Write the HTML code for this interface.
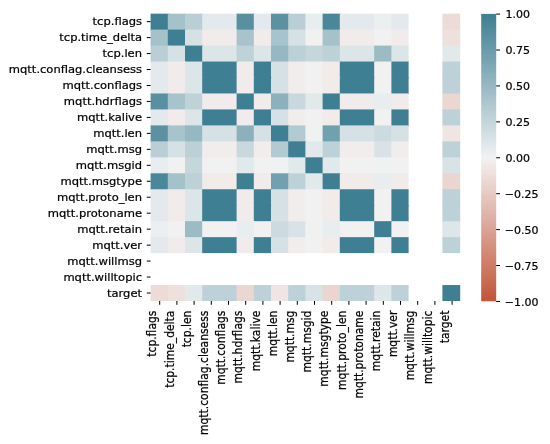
<!DOCTYPE html><html><head><meta charset="utf-8"><title>heatmap</title><style>html,body{margin:0;padding:0;background:#fff}svg{display:block}text{font-family:"DejaVu Sans","Liberation Sans",sans-serif;font-size:10.9px;fill:#000;stroke:#000;stroke-width:0.22px}.xl{font-size:10.75px}</style></head><body>
<svg width="550" height="444" viewBox="0 0 550 444">
<rect width="550" height="444" fill="#fff"/>
<g shape-rendering="auto">
<rect x="150.60" y="13.65" width="18.20" height="16.96" fill="#3f7f93"/>
<rect x="167.80" y="13.65" width="18.20" height="16.96" fill="#a5c1ca"/>
<rect x="185.00" y="13.65" width="18.20" height="16.96" fill="#b9cfd5"/>
<rect x="202.20" y="13.65" width="35.40" height="16.96" fill="#e3e9ec"/>
<rect x="236.60" y="13.65" width="18.20" height="16.96" fill="#588fa1"/>
<rect x="253.80" y="13.65" width="18.20" height="16.96" fill="#e3e9ec"/>
<rect x="271.00" y="13.65" width="18.20" height="16.96" fill="#5b91a2"/>
<rect x="288.20" y="13.65" width="18.20" height="16.96" fill="#b9cfd5"/>
<rect x="305.40" y="13.65" width="18.20" height="16.96" fill="#e8edef"/>
<rect x="322.60" y="13.65" width="18.20" height="16.96" fill="#4b879a"/>
<rect x="339.80" y="13.65" width="35.40" height="16.96" fill="#e3e9ec"/>
<rect x="374.20" y="13.65" width="18.20" height="16.96" fill="#ebeff0"/>
<rect x="391.40" y="13.65" width="17.20" height="16.96" fill="#e3e9ec"/>
<rect x="442.40" y="13.65" width="17.80" height="16.96" fill="#ecdbd7"/>
<rect x="150.60" y="29.61" width="18.20" height="16.96" fill="#a5c1ca"/>
<rect x="167.80" y="29.61" width="18.20" height="16.96" fill="#3f7f93"/>
<rect x="185.00" y="29.61" width="18.20" height="16.96" fill="#d6e1e5"/>
<rect x="202.20" y="29.61" width="35.40" height="16.96" fill="#f1eceb"/>
<rect x="236.60" y="29.61" width="18.20" height="16.96" fill="#a7c3cc"/>
<rect x="253.80" y="29.61" width="18.20" height="16.96" fill="#f1eceb"/>
<rect x="271.00" y="29.61" width="18.20" height="16.96" fill="#a7c3cc"/>
<rect x="288.20" y="29.61" width="18.20" height="16.96" fill="#d6e1e5"/>
<rect x="305.40" y="29.61" width="18.20" height="16.96" fill="#f2f1f1"/>
<rect x="322.60" y="29.61" width="18.20" height="16.96" fill="#a5c1ca"/>
<rect x="339.80" y="29.61" width="35.40" height="16.96" fill="#f1eceb"/>
<rect x="374.20" y="29.61" width="18.20" height="16.96" fill="#f2f1f1"/>
<rect x="391.40" y="29.61" width="17.20" height="16.96" fill="#f1eceb"/>
<rect x="442.40" y="29.61" width="17.80" height="16.96" fill="#ede0dd"/>
<rect x="150.60" y="45.58" width="18.20" height="16.96" fill="#b9cfd5"/>
<rect x="167.80" y="45.58" width="18.20" height="16.96" fill="#d6e1e5"/>
<rect x="185.00" y="45.58" width="18.20" height="16.96" fill="#3f7f93"/>
<rect x="202.20" y="45.58" width="35.40" height="16.96" fill="#dce5e8"/>
<rect x="236.60" y="45.58" width="18.20" height="16.96" fill="#bfd2d8"/>
<rect x="253.80" y="45.58" width="18.20" height="16.96" fill="#dce5e8"/>
<rect x="271.00" y="45.58" width="18.20" height="16.96" fill="#96b8c2"/>
<rect x="288.20" y="45.58" width="18.20" height="16.96" fill="#bcd0d7"/>
<rect x="305.40" y="45.58" width="18.20" height="16.96" fill="#c6d7dc"/>
<rect x="322.60" y="45.58" width="18.20" height="16.96" fill="#bdd1d8"/>
<rect x="339.80" y="45.58" width="35.40" height="16.96" fill="#dce5e8"/>
<rect x="374.20" y="45.58" width="18.20" height="16.96" fill="#9bbbc5"/>
<rect x="391.40" y="45.58" width="17.20" height="16.96" fill="#dce5e8"/>
<rect x="442.40" y="45.58" width="17.80" height="16.96" fill="#e1e9eb"/>
<rect x="150.60" y="61.54" width="18.20" height="16.96" fill="#e3e9ec"/>
<rect x="167.80" y="61.54" width="18.20" height="16.96" fill="#f1eceb"/>
<rect x="185.00" y="61.54" width="18.20" height="16.96" fill="#dce5e8"/>
<rect x="202.20" y="61.54" width="35.40" height="16.96" fill="#3f7f93"/>
<rect x="236.60" y="61.54" width="18.20" height="16.96" fill="#f1eceb"/>
<rect x="253.80" y="61.54" width="18.20" height="16.96" fill="#3f7f93"/>
<rect x="271.00" y="61.54" width="18.20" height="16.96" fill="#d6e1e5"/>
<rect x="288.20" y="61.54" width="18.20" height="16.96" fill="#f1edec"/>
<rect x="305.40" y="61.54" width="18.20" height="16.96" fill="#f2f1f1"/>
<rect x="322.60" y="61.54" width="18.20" height="16.96" fill="#f1ebe9"/>
<rect x="339.80" y="61.54" width="35.40" height="16.96" fill="#3f7f93"/>
<rect x="374.20" y="61.54" width="18.20" height="16.96" fill="#f2f1f1"/>
<rect x="391.40" y="61.54" width="17.20" height="16.96" fill="#3f7f93"/>
<rect x="442.40" y="61.54" width="17.80" height="16.96" fill="#bdd1d8"/>
<rect x="150.60" y="77.51" width="18.20" height="16.96" fill="#e3e9ec"/>
<rect x="167.80" y="77.51" width="18.20" height="16.96" fill="#f1eceb"/>
<rect x="185.00" y="77.51" width="18.20" height="16.96" fill="#dce5e8"/>
<rect x="202.20" y="77.51" width="35.40" height="16.96" fill="#3f7f93"/>
<rect x="236.60" y="77.51" width="18.20" height="16.96" fill="#f1eceb"/>
<rect x="253.80" y="77.51" width="18.20" height="16.96" fill="#3f7f93"/>
<rect x="271.00" y="77.51" width="18.20" height="16.96" fill="#d6e1e5"/>
<rect x="288.20" y="77.51" width="18.20" height="16.96" fill="#f1edec"/>
<rect x="305.40" y="77.51" width="18.20" height="16.96" fill="#f2f1f1"/>
<rect x="322.60" y="77.51" width="18.20" height="16.96" fill="#f1ebe9"/>
<rect x="339.80" y="77.51" width="35.40" height="16.96" fill="#3f7f93"/>
<rect x="374.20" y="77.51" width="18.20" height="16.96" fill="#f2f1f1"/>
<rect x="391.40" y="77.51" width="17.20" height="16.96" fill="#3f7f93"/>
<rect x="442.40" y="77.51" width="17.80" height="16.96" fill="#bdd1d8"/>
<rect x="150.60" y="93.47" width="18.20" height="16.96" fill="#588fa1"/>
<rect x="167.80" y="93.47" width="18.20" height="16.96" fill="#a7c3cc"/>
<rect x="185.00" y="93.47" width="18.20" height="16.96" fill="#bfd2d8"/>
<rect x="202.20" y="93.47" width="35.40" height="16.96" fill="#f1eceb"/>
<rect x="236.60" y="93.47" width="18.20" height="16.96" fill="#3f7f93"/>
<rect x="253.80" y="93.47" width="18.20" height="16.96" fill="#f1eceb"/>
<rect x="271.00" y="93.47" width="18.20" height="16.96" fill="#8bb1bc"/>
<rect x="288.20" y="93.47" width="18.20" height="16.96" fill="#c8d8de"/>
<rect x="305.40" y="93.47" width="18.20" height="16.96" fill="#e1e9eb"/>
<rect x="322.60" y="93.47" width="18.20" height="16.96" fill="#3f7f93"/>
<rect x="339.80" y="93.47" width="35.40" height="16.96" fill="#f1eceb"/>
<rect x="374.20" y="93.47" width="18.20" height="16.96" fill="#e8edef"/>
<rect x="391.40" y="93.47" width="17.20" height="16.96" fill="#f1eceb"/>
<rect x="442.40" y="93.47" width="17.80" height="16.96" fill="#ebd7d2"/>
<rect x="150.60" y="109.43" width="18.20" height="16.96" fill="#e3e9ec"/>
<rect x="167.80" y="109.43" width="18.20" height="16.96" fill="#f1eceb"/>
<rect x="185.00" y="109.43" width="18.20" height="16.96" fill="#dce5e8"/>
<rect x="202.20" y="109.43" width="35.40" height="16.96" fill="#3f7f93"/>
<rect x="236.60" y="109.43" width="18.20" height="16.96" fill="#f1eceb"/>
<rect x="253.80" y="109.43" width="18.20" height="16.96" fill="#3f7f93"/>
<rect x="271.00" y="109.43" width="18.20" height="16.96" fill="#d6e1e5"/>
<rect x="288.20" y="109.43" width="18.20" height="16.96" fill="#f1edec"/>
<rect x="305.40" y="109.43" width="18.20" height="16.96" fill="#f2f1f1"/>
<rect x="322.60" y="109.43" width="18.20" height="16.96" fill="#f1ebe9"/>
<rect x="339.80" y="109.43" width="35.40" height="16.96" fill="#3f7f93"/>
<rect x="374.20" y="109.43" width="18.20" height="16.96" fill="#f2f1f1"/>
<rect x="391.40" y="109.43" width="17.20" height="16.96" fill="#3f7f93"/>
<rect x="442.40" y="109.43" width="17.80" height="16.96" fill="#bdd1d8"/>
<rect x="150.60" y="125.40" width="18.20" height="16.96" fill="#5b91a2"/>
<rect x="167.80" y="125.40" width="18.20" height="16.96" fill="#a7c3cc"/>
<rect x="185.00" y="125.40" width="18.20" height="16.96" fill="#96b8c2"/>
<rect x="202.20" y="125.40" width="35.40" height="16.96" fill="#d6e1e5"/>
<rect x="236.60" y="125.40" width="18.20" height="16.96" fill="#8bb1bc"/>
<rect x="253.80" y="125.40" width="18.20" height="16.96" fill="#d6e1e5"/>
<rect x="271.00" y="125.40" width="18.20" height="16.96" fill="#3f7f93"/>
<rect x="288.20" y="125.40" width="18.20" height="16.96" fill="#b2cad2"/>
<rect x="305.40" y="125.40" width="18.20" height="16.96" fill="#f0f2f2"/>
<rect x="322.60" y="125.40" width="18.20" height="16.96" fill="#71a0ae"/>
<rect x="339.80" y="125.40" width="35.40" height="16.96" fill="#d6e1e5"/>
<rect x="374.20" y="125.40" width="18.20" height="16.96" fill="#cddbe0"/>
<rect x="391.40" y="125.40" width="17.20" height="16.96" fill="#d6e1e5"/>
<rect x="442.40" y="125.40" width="17.80" height="16.96" fill="#efe5e2"/>
<rect x="150.60" y="141.36" width="18.20" height="16.96" fill="#b9cfd5"/>
<rect x="167.80" y="141.36" width="18.20" height="16.96" fill="#d6e1e5"/>
<rect x="185.00" y="141.36" width="18.20" height="16.96" fill="#bcd0d7"/>
<rect x="202.20" y="141.36" width="35.40" height="16.96" fill="#f1edec"/>
<rect x="236.60" y="141.36" width="18.20" height="16.96" fill="#c8d8de"/>
<rect x="253.80" y="141.36" width="18.20" height="16.96" fill="#f1edec"/>
<rect x="271.00" y="141.36" width="18.20" height="16.96" fill="#b2cad2"/>
<rect x="288.20" y="141.36" width="18.20" height="16.96" fill="#3f7f93"/>
<rect x="305.40" y="141.36" width="18.20" height="16.96" fill="#e1e9eb"/>
<rect x="322.60" y="141.36" width="18.20" height="16.96" fill="#bdd1d8"/>
<rect x="339.80" y="141.36" width="35.40" height="16.96" fill="#f1edec"/>
<rect x="374.20" y="141.36" width="18.20" height="16.96" fill="#d9e3e7"/>
<rect x="391.40" y="141.36" width="17.20" height="16.96" fill="#f1edec"/>
<rect x="442.40" y="141.36" width="17.80" height="16.96" fill="#bdd1d8"/>
<rect x="150.60" y="157.33" width="18.20" height="16.96" fill="#e8edef"/>
<rect x="167.80" y="157.33" width="18.20" height="16.96" fill="#f2f1f1"/>
<rect x="185.00" y="157.33" width="18.20" height="16.96" fill="#c6d7dc"/>
<rect x="202.20" y="157.33" width="35.40" height="16.96" fill="#f2f1f1"/>
<rect x="236.60" y="157.33" width="18.20" height="16.96" fill="#e1e9eb"/>
<rect x="253.80" y="157.33" width="18.20" height="16.96" fill="#f2f1f1"/>
<rect x="271.00" y="157.33" width="18.20" height="16.96" fill="#f0f2f2"/>
<rect x="288.20" y="157.33" width="18.20" height="16.96" fill="#e1e9eb"/>
<rect x="305.40" y="157.33" width="18.20" height="16.96" fill="#3f7f93"/>
<rect x="322.60" y="157.33" width="18.20" height="16.96" fill="#e1e9eb"/>
<rect x="339.80" y="157.33" width="35.40" height="16.96" fill="#f2f1f1"/>
<rect x="374.20" y="157.33" width="18.20" height="16.96" fill="#f0f2f2"/>
<rect x="391.40" y="157.33" width="17.20" height="16.96" fill="#f2f1f1"/>
<rect x="442.40" y="157.33" width="17.80" height="16.96" fill="#d9e3e7"/>
<rect x="150.60" y="173.29" width="18.20" height="16.96" fill="#4b879a"/>
<rect x="167.80" y="173.29" width="18.20" height="16.96" fill="#a5c1ca"/>
<rect x="185.00" y="173.29" width="18.20" height="16.96" fill="#bdd1d8"/>
<rect x="202.20" y="173.29" width="35.40" height="16.96" fill="#f1ebe9"/>
<rect x="236.60" y="173.29" width="18.20" height="16.96" fill="#3f7f93"/>
<rect x="253.80" y="173.29" width="18.20" height="16.96" fill="#f1ebe9"/>
<rect x="271.00" y="173.29" width="18.20" height="16.96" fill="#71a0ae"/>
<rect x="288.20" y="173.29" width="18.20" height="16.96" fill="#bdd1d8"/>
<rect x="305.40" y="173.29" width="18.20" height="16.96" fill="#e1e9eb"/>
<rect x="322.60" y="173.29" width="18.20" height="16.96" fill="#3f7f93"/>
<rect x="339.80" y="173.29" width="35.40" height="16.96" fill="#f1ebe9"/>
<rect x="374.20" y="173.29" width="18.20" height="16.96" fill="#e8edef"/>
<rect x="391.40" y="173.29" width="17.20" height="16.96" fill="#f1ebe9"/>
<rect x="442.40" y="173.29" width="17.80" height="16.96" fill="#ead5d0"/>
<rect x="150.60" y="189.25" width="18.20" height="16.96" fill="#e3e9ec"/>
<rect x="167.80" y="189.25" width="18.20" height="16.96" fill="#f1eceb"/>
<rect x="185.00" y="189.25" width="18.20" height="16.96" fill="#dce5e8"/>
<rect x="202.20" y="189.25" width="35.40" height="16.96" fill="#3f7f93"/>
<rect x="236.60" y="189.25" width="18.20" height="16.96" fill="#f1eceb"/>
<rect x="253.80" y="189.25" width="18.20" height="16.96" fill="#3f7f93"/>
<rect x="271.00" y="189.25" width="18.20" height="16.96" fill="#d6e1e5"/>
<rect x="288.20" y="189.25" width="18.20" height="16.96" fill="#f1edec"/>
<rect x="305.40" y="189.25" width="18.20" height="16.96" fill="#f2f1f1"/>
<rect x="322.60" y="189.25" width="18.20" height="16.96" fill="#f1ebe9"/>
<rect x="339.80" y="189.25" width="35.40" height="16.96" fill="#3f7f93"/>
<rect x="374.20" y="189.25" width="18.20" height="16.96" fill="#f2f1f1"/>
<rect x="391.40" y="189.25" width="17.20" height="16.96" fill="#3f7f93"/>
<rect x="442.40" y="189.25" width="17.80" height="16.96" fill="#bdd1d8"/>
<rect x="150.60" y="205.22" width="18.20" height="16.96" fill="#e3e9ec"/>
<rect x="167.80" y="205.22" width="18.20" height="16.96" fill="#f1eceb"/>
<rect x="185.00" y="205.22" width="18.20" height="16.96" fill="#dce5e8"/>
<rect x="202.20" y="205.22" width="35.40" height="16.96" fill="#3f7f93"/>
<rect x="236.60" y="205.22" width="18.20" height="16.96" fill="#f1eceb"/>
<rect x="253.80" y="205.22" width="18.20" height="16.96" fill="#3f7f93"/>
<rect x="271.00" y="205.22" width="18.20" height="16.96" fill="#d6e1e5"/>
<rect x="288.20" y="205.22" width="18.20" height="16.96" fill="#f1edec"/>
<rect x="305.40" y="205.22" width="18.20" height="16.96" fill="#f2f1f1"/>
<rect x="322.60" y="205.22" width="18.20" height="16.96" fill="#f1ebe9"/>
<rect x="339.80" y="205.22" width="35.40" height="16.96" fill="#3f7f93"/>
<rect x="374.20" y="205.22" width="18.20" height="16.96" fill="#f2f1f1"/>
<rect x="391.40" y="205.22" width="17.20" height="16.96" fill="#3f7f93"/>
<rect x="442.40" y="205.22" width="17.80" height="16.96" fill="#bdd1d8"/>
<rect x="150.60" y="221.18" width="18.20" height="16.96" fill="#ebeff0"/>
<rect x="167.80" y="221.18" width="18.20" height="16.96" fill="#f2f1f1"/>
<rect x="185.00" y="221.18" width="18.20" height="16.96" fill="#9bbbc5"/>
<rect x="202.20" y="221.18" width="35.40" height="16.96" fill="#f2f1f1"/>
<rect x="236.60" y="221.18" width="18.20" height="16.96" fill="#e8edef"/>
<rect x="253.80" y="221.18" width="18.20" height="16.96" fill="#f2f1f1"/>
<rect x="271.00" y="221.18" width="18.20" height="16.96" fill="#cddbe0"/>
<rect x="288.20" y="221.18" width="18.20" height="16.96" fill="#d9e3e7"/>
<rect x="305.40" y="221.18" width="18.20" height="16.96" fill="#f0f2f2"/>
<rect x="322.60" y="221.18" width="18.20" height="16.96" fill="#e8edef"/>
<rect x="339.80" y="221.18" width="35.40" height="16.96" fill="#f2f1f1"/>
<rect x="374.20" y="221.18" width="18.20" height="16.96" fill="#3f7f93"/>
<rect x="391.40" y="221.18" width="17.20" height="16.96" fill="#f2f1f1"/>
<rect x="442.40" y="221.18" width="17.80" height="16.96" fill="#dde6e9"/>
<rect x="150.60" y="237.14" width="18.20" height="15.96" fill="#e3e9ec"/>
<rect x="167.80" y="237.14" width="18.20" height="15.96" fill="#f1eceb"/>
<rect x="185.00" y="237.14" width="18.20" height="15.96" fill="#dce5e8"/>
<rect x="202.20" y="237.14" width="35.40" height="15.96" fill="#3f7f93"/>
<rect x="236.60" y="237.14" width="18.20" height="15.96" fill="#f1eceb"/>
<rect x="253.80" y="237.14" width="18.20" height="15.96" fill="#3f7f93"/>
<rect x="271.00" y="237.14" width="18.20" height="15.96" fill="#d6e1e5"/>
<rect x="288.20" y="237.14" width="18.20" height="15.96" fill="#f1edec"/>
<rect x="305.40" y="237.14" width="18.20" height="15.96" fill="#f2f1f1"/>
<rect x="322.60" y="237.14" width="18.20" height="15.96" fill="#f1ebe9"/>
<rect x="339.80" y="237.14" width="35.40" height="15.96" fill="#3f7f93"/>
<rect x="374.20" y="237.14" width="18.20" height="15.96" fill="#f2f1f1"/>
<rect x="391.40" y="237.14" width="17.20" height="15.96" fill="#3f7f93"/>
<rect x="442.40" y="237.14" width="17.80" height="15.96" fill="#bdd1d8"/>
<rect x="150.60" y="285.04" width="18.20" height="15.96" fill="#ecdbd7"/>
<rect x="167.80" y="285.04" width="18.20" height="15.96" fill="#ede0dd"/>
<rect x="185.00" y="285.04" width="18.20" height="15.96" fill="#e1e9eb"/>
<rect x="202.20" y="285.04" width="35.40" height="15.96" fill="#bdd1d8"/>
<rect x="236.60" y="285.04" width="18.20" height="15.96" fill="#ebd7d2"/>
<rect x="253.80" y="285.04" width="18.20" height="15.96" fill="#bdd1d8"/>
<rect x="271.00" y="285.04" width="18.20" height="15.96" fill="#efe5e2"/>
<rect x="288.20" y="285.04" width="18.20" height="15.96" fill="#bdd1d8"/>
<rect x="305.40" y="285.04" width="18.20" height="15.96" fill="#d9e3e7"/>
<rect x="322.60" y="285.04" width="18.20" height="15.96" fill="#ead5d0"/>
<rect x="339.80" y="285.04" width="35.40" height="15.96" fill="#bdd1d8"/>
<rect x="374.20" y="285.04" width="18.20" height="15.96" fill="#dde6e9"/>
<rect x="391.40" y="285.04" width="17.20" height="15.96" fill="#bdd1d8"/>
<rect x="442.40" y="285.04" width="17.80" height="15.96" fill="#3f7f93"/>
</g>
<defs><linearGradient id="cb" x1="0" y1="0" x2="0" y2="1"><stop offset="0.0025" stop-color="#3f7f93"/><stop offset="0.0075" stop-color="#408094"/><stop offset="0.0125" stop-color="#428195"/><stop offset="0.0175" stop-color="#438295"/><stop offset="0.0225" stop-color="#468497"/><stop offset="0.0275" stop-color="#478598"/><stop offset="0.0325" stop-color="#498698"/><stop offset="0.0375" stop-color="#4b879a"/><stop offset="0.0425" stop-color="#4d889b"/><stop offset="0.0475" stop-color="#4e899b"/><stop offset="0.0525" stop-color="#508a9c"/><stop offset="0.0575" stop-color="#528c9e"/><stop offset="0.0625" stop-color="#548d9e"/><stop offset="0.0675" stop-color="#558e9f"/><stop offset="0.0725" stop-color="#588fa1"/><stop offset="0.0775" stop-color="#5990a1"/><stop offset="0.0825" stop-color="#5b91a2"/><stop offset="0.0875" stop-color="#5c92a3"/><stop offset="0.0925" stop-color="#5f94a4"/><stop offset="0.0975" stop-color="#6095a5"/><stop offset="0.1025" stop-color="#6296a6"/><stop offset="0.1075" stop-color="#6497a7"/><stop offset="0.1125" stop-color="#6698a8"/><stop offset="0.1175" stop-color="#6799a9"/><stop offset="0.1225" stop-color="#689aaa"/><stop offset="0.1275" stop-color="#6b9cab"/><stop offset="0.1325" stop-color="#6d9dac"/><stop offset="0.1375" stop-color="#6e9ead"/><stop offset="0.1425" stop-color="#71a0ae"/><stop offset="0.1475" stop-color="#72a0af"/><stop offset="0.1525" stop-color="#74a1b0"/><stop offset="0.1575" stop-color="#75a2b0"/><stop offset="0.1625" stop-color="#78a4b2"/><stop offset="0.1675" stop-color="#79a5b3"/><stop offset="0.1725" stop-color="#7aa6b3"/><stop offset="0.1775" stop-color="#7da8b5"/><stop offset="0.1825" stop-color="#7fa8b6"/><stop offset="0.1875" stop-color="#80a9b6"/><stop offset="0.1925" stop-color="#81aab7"/><stop offset="0.1975" stop-color="#84acb8"/><stop offset="0.2025" stop-color="#85adb9"/><stop offset="0.2075" stop-color="#87aeba"/><stop offset="0.2125" stop-color="#8ab0bb"/><stop offset="0.2175" stop-color="#8bb1bc"/><stop offset="0.2225" stop-color="#8cb1bd"/><stop offset="0.2275" stop-color="#8eb2be"/><stop offset="0.2325" stop-color="#91b4bf"/><stop offset="0.2375" stop-color="#92b5c0"/><stop offset="0.2425" stop-color="#93b6c1"/><stop offset="0.2475" stop-color="#96b8c2"/><stop offset="0.2525" stop-color="#98b9c3"/><stop offset="0.2575" stop-color="#9abac4"/><stop offset="0.2625" stop-color="#9bbbc5"/><stop offset="0.2675" stop-color="#9ebdc6"/><stop offset="0.2725" stop-color="#9fbec7"/><stop offset="0.2775" stop-color="#a0bec8"/><stop offset="0.2825" stop-color="#a3c0c9"/><stop offset="0.2875" stop-color="#a5c1ca"/><stop offset="0.2925" stop-color="#a6c2cb"/><stop offset="0.2975" stop-color="#a7c3cc"/><stop offset="0.3025" stop-color="#aac5cd"/><stop offset="0.3075" stop-color="#abc6ce"/><stop offset="0.3125" stop-color="#adc6cf"/><stop offset="0.3175" stop-color="#b0c8d0"/><stop offset="0.3225" stop-color="#b1c9d1"/><stop offset="0.3275" stop-color="#b2cad2"/><stop offset="0.3325" stop-color="#b4cbd2"/><stop offset="0.3375" stop-color="#b7cdd4"/><stop offset="0.3425" stop-color="#b8ced5"/><stop offset="0.3475" stop-color="#b9cfd5"/><stop offset="0.3525" stop-color="#bcd0d7"/><stop offset="0.3575" stop-color="#bdd1d8"/><stop offset="0.3625" stop-color="#bfd2d8"/><stop offset="0.3675" stop-color="#c0d3d9"/><stop offset="0.3725" stop-color="#c3d5db"/><stop offset="0.3775" stop-color="#c4d6db"/><stop offset="0.3825" stop-color="#c6d7dc"/><stop offset="0.3875" stop-color="#c8d8de"/><stop offset="0.3925" stop-color="#cad9de"/><stop offset="0.3975" stop-color="#cbdadf"/><stop offset="0.4025" stop-color="#cddbe0"/><stop offset="0.4075" stop-color="#cfdde1"/><stop offset="0.4125" stop-color="#d1dee2"/><stop offset="0.4175" stop-color="#d2dfe3"/><stop offset="0.4225" stop-color="#d5e0e4"/><stop offset="0.4275" stop-color="#d6e1e5"/><stop offset="0.4325" stop-color="#d8e2e6"/><stop offset="0.4375" stop-color="#d9e3e7"/><stop offset="0.4425" stop-color="#dce5e8"/><stop offset="0.4475" stop-color="#dde6e9"/><stop offset="0.4525" stop-color="#dfe7ea"/><stop offset="0.4575" stop-color="#e1e9eb"/><stop offset="0.4625" stop-color="#e3e9ec"/><stop offset="0.4675" stop-color="#e4eaed"/><stop offset="0.4725" stop-color="#e6ebed"/><stop offset="0.4775" stop-color="#e8edef"/><stop offset="0.4825" stop-color="#eaeef0"/><stop offset="0.4875" stop-color="#ebeff0"/><stop offset="0.4925" stop-color="#eef1f2"/><stop offset="0.4975" stop-color="#f0f2f2"/><stop offset="0.5025" stop-color="#f2f1f1"/><stop offset="0.5075" stop-color="#f2f0ef"/><stop offset="0.5125" stop-color="#f1edec"/><stop offset="0.5175" stop-color="#f1eceb"/><stop offset="0.5225" stop-color="#f1ebe9"/><stop offset="0.5275" stop-color="#f0e8e7"/><stop offset="0.5325" stop-color="#efe7e5"/><stop offset="0.5375" stop-color="#efe6e4"/><stop offset="0.5425" stop-color="#efe5e2"/><stop offset="0.5475" stop-color="#eee2df"/><stop offset="0.5525" stop-color="#eee1de"/><stop offset="0.5575" stop-color="#ede0dd"/><stop offset="0.5625" stop-color="#ecddda"/><stop offset="0.5675" stop-color="#ecdcd8"/><stop offset="0.5725" stop-color="#ecdbd7"/><stop offset="0.5775" stop-color="#ebdad5"/><stop offset="0.5825" stop-color="#ebd7d2"/><stop offset="0.5875" stop-color="#ead6d1"/><stop offset="0.5925" stop-color="#ead5d0"/><stop offset="0.5975" stop-color="#e9d2cd"/><stop offset="0.6025" stop-color="#e9d1cb"/><stop offset="0.6075" stop-color="#e8d0ca"/><stop offset="0.6125" stop-color="#e8cfc8"/><stop offset="0.6175" stop-color="#e7ccc6"/><stop offset="0.6225" stop-color="#e7cbc4"/><stop offset="0.6275" stop-color="#e6cac3"/><stop offset="0.6325" stop-color="#e6c7c0"/><stop offset="0.6375" stop-color="#e5c6be"/><stop offset="0.6425" stop-color="#e5c5bd"/><stop offset="0.6475" stop-color="#e5c4bb"/><stop offset="0.6525" stop-color="#e4c1b9"/><stop offset="0.6575" stop-color="#e3c0b7"/><stop offset="0.6625" stop-color="#e3bfb6"/><stop offset="0.6675" stop-color="#e2bcb3"/><stop offset="0.6725" stop-color="#e2bbb1"/><stop offset="0.6775" stop-color="#e2bab0"/><stop offset="0.6825" stop-color="#e1b9af"/><stop offset="0.6875" stop-color="#e0b6ac"/><stop offset="0.6925" stop-color="#e0b5aa"/><stop offset="0.6975" stop-color="#e0b4a9"/><stop offset="0.7025" stop-color="#dfb1a6"/><stop offset="0.7075" stop-color="#dfb0a5"/><stop offset="0.7125" stop-color="#deafa3"/><stop offset="0.7175" stop-color="#deaea2"/><stop offset="0.7225" stop-color="#ddab9f"/><stop offset="0.7275" stop-color="#ddaa9d"/><stop offset="0.7325" stop-color="#dca99c"/><stop offset="0.7375" stop-color="#dca699"/><stop offset="0.7425" stop-color="#dba598"/><stop offset="0.7475" stop-color="#dba496"/><stop offset="0.7525" stop-color="#daa294"/><stop offset="0.7575" stop-color="#daa091"/><stop offset="0.7625" stop-color="#d99f90"/><stop offset="0.7675" stop-color="#d99d8e"/><stop offset="0.7725" stop-color="#d89b8b"/><stop offset="0.7775" stop-color="#d89a8a"/><stop offset="0.7825" stop-color="#d79889"/><stop offset="0.7875" stop-color="#d79787"/><stop offset="0.7925" stop-color="#d69584"/><stop offset="0.7975" stop-color="#d69483"/><stop offset="0.8025" stop-color="#d59281"/><stop offset="0.8075" stop-color="#d5907e"/><stop offset="0.8125" stop-color="#d48f7d"/><stop offset="0.8175" stop-color="#d48d7c"/><stop offset="0.8225" stop-color="#d48c7a"/><stop offset="0.8275" stop-color="#d38a77"/><stop offset="0.8325" stop-color="#d28976"/><stop offset="0.8375" stop-color="#d28774"/><stop offset="0.8425" stop-color="#d18572"/><stop offset="0.8475" stop-color="#d18470"/><stop offset="0.8525" stop-color="#d1826f"/><stop offset="0.8575" stop-color="#d0816d"/><stop offset="0.8625" stop-color="#cf7f6a"/><stop offset="0.8675" stop-color="#cf7e69"/><stop offset="0.8725" stop-color="#cf7c68"/><stop offset="0.8775" stop-color="#ce7a65"/><stop offset="0.8825" stop-color="#ce7963"/><stop offset="0.8875" stop-color="#cd7862"/><stop offset="0.8925" stop-color="#cd7660"/><stop offset="0.8975" stop-color="#cc745d"/><stop offset="0.9025" stop-color="#cc735c"/><stop offset="0.9075" stop-color="#cb715b"/><stop offset="0.9125" stop-color="#cb6f58"/><stop offset="0.9175" stop-color="#ca6e56"/><stop offset="0.9225" stop-color="#ca6d55"/><stop offset="0.9275" stop-color="#c96b53"/><stop offset="0.9325" stop-color="#c96951"/><stop offset="0.9375" stop-color="#c8684f"/><stop offset="0.9425" stop-color="#c8664e"/><stop offset="0.9475" stop-color="#c7644b"/><stop offset="0.9525" stop-color="#c76349"/><stop offset="0.9575" stop-color="#c66248"/><stop offset="0.9625" stop-color="#c66047"/><stop offset="0.9675" stop-color="#c55e44"/><stop offset="0.9725" stop-color="#c55d42"/><stop offset="0.9775" stop-color="#c55b41"/><stop offset="0.9825" stop-color="#c4593e"/><stop offset="0.9875" stop-color="#c3583c"/><stop offset="0.9925" stop-color="#c3573b"/><stop offset="0.9975" stop-color="#c3553a"/></linearGradient></defs>
<rect x="481.20" y="13.90" width="15.00" height="287.35" fill="url(#cb)"/>
<path d="M146.80 21.63H150.60M146.80 37.60H150.60M146.80 53.56H150.60M146.80 69.52H150.60M146.80 85.49H150.60M146.80 101.45H150.60M146.80 117.42H150.60M146.80 133.38H150.60M146.80 149.34H150.60M146.80 165.31H150.60M146.80 181.27H150.60M146.80 197.23H150.60M146.80 213.20H150.60M146.80 229.16H150.60M146.80 245.13H150.60M146.80 261.09H150.60M146.80 277.05H150.60M146.80 293.02H150.60M496.20 14.10H500.00M496.20 50.02H500.00M496.20 85.94H500.00M496.20 121.86H500.00M496.20 157.78H500.00M496.20 193.69H500.00M496.20 229.61H500.00M496.20 265.53H500.00M496.20 301.45H500.00" stroke="#000" stroke-width="1" fill="none"/>
<path d="M159.70 301.00V304.80M176.90 301.00V304.80M194.10 301.00V304.80M211.30 301.00V304.80M228.50 301.00V304.80M245.70 301.00V304.80M262.90 301.00V304.80M280.10 301.00V304.80M297.30 301.00V304.80M314.50 301.00V304.80M331.70 301.00V304.80M348.90 301.00V304.80M366.10 301.00V304.80M383.30 301.00V304.80M400.50 301.00V304.80M417.70 301.00V304.80M434.90 301.00V304.80M452.10 301.00V304.80" stroke="#000" stroke-width="1" fill="none"/>
<text transform="translate(142.00 25.38) scale(1.0570 1)" text-anchor="end">tcp.flags</text>
<text transform="translate(142.00 41.35) scale(1.0570 1)" text-anchor="end">tcp.time_delta</text>
<text transform="translate(142.00 57.31) scale(1.0570 1)" text-anchor="end">tcp.len</text>
<text transform="translate(142.00 73.27) scale(1.0570 1)" text-anchor="end">mqtt.conflag.cleansess</text>
<text transform="translate(142.00 89.24) scale(1.0570 1)" text-anchor="end">mqtt.conflags</text>
<text transform="translate(142.00 105.20) scale(1.0570 1)" text-anchor="end">mqtt.hdrflags</text>
<text transform="translate(142.00 121.17) scale(1.0570 1)" text-anchor="end">mqtt.kalive</text>
<text transform="translate(142.00 137.13) scale(1.0570 1)" text-anchor="end">mqtt.len</text>
<text transform="translate(142.00 153.09) scale(1.0570 1)" text-anchor="end">mqtt.msg</text>
<text transform="translate(142.00 169.06) scale(1.0570 1)" text-anchor="end">mqtt.msgid</text>
<text transform="translate(142.00 185.02) scale(1.0570 1)" text-anchor="end">mqtt.msgtype</text>
<text transform="translate(142.00 200.98) scale(1.0570 1)" text-anchor="end">mqtt.proto_len</text>
<text transform="translate(142.00 216.95) scale(1.0570 1)" text-anchor="end">mqtt.protoname</text>
<text transform="translate(142.00 232.91) scale(1.0570 1)" text-anchor="end">mqtt.retain</text>
<text transform="translate(142.00 248.88) scale(1.0570 1)" text-anchor="end">mqtt.ver</text>
<text transform="translate(142.00 264.84) scale(1.0570 1)" text-anchor="end">mqtt.willmsg</text>
<text transform="translate(142.00 280.80) scale(1.0570 1)" text-anchor="end">mqtt.willtopic</text>
<text transform="translate(142.00 296.77) scale(1.0570 1)" text-anchor="end">target</text>
<text transform="translate(156.35 310.60) scale(1.10 1) rotate(-90)" text-anchor="end" class="xl">tcp.flags</text>
<text transform="translate(173.55 310.60) scale(1.10 1) rotate(-90)" text-anchor="end" class="xl">tcp.time_delta</text>
<text transform="translate(190.75 310.60) scale(1.10 1) rotate(-90)" text-anchor="end" class="xl">tcp.len</text>
<text transform="translate(207.95 310.60) scale(1.10 1) rotate(-90)" text-anchor="end" class="xl">mqtt.conflag.cleansess</text>
<text transform="translate(225.15 310.60) scale(1.10 1) rotate(-90)" text-anchor="end" class="xl">mqtt.conflags</text>
<text transform="translate(242.35 310.60) scale(1.10 1) rotate(-90)" text-anchor="end" class="xl">mqtt.hdrflags</text>
<text transform="translate(259.55 310.60) scale(1.10 1) rotate(-90)" text-anchor="end" class="xl">mqtt.kalive</text>
<text transform="translate(276.75 310.60) scale(1.10 1) rotate(-90)" text-anchor="end" class="xl">mqtt.len</text>
<text transform="translate(293.95 310.60) scale(1.10 1) rotate(-90)" text-anchor="end" class="xl">mqtt.msg</text>
<text transform="translate(311.15 310.60) scale(1.10 1) rotate(-90)" text-anchor="end" class="xl">mqtt.msgid</text>
<text transform="translate(328.35 310.60) scale(1.10 1) rotate(-90)" text-anchor="end" class="xl">mqtt.msgtype</text>
<text transform="translate(345.55 310.60) scale(1.10 1) rotate(-90)" text-anchor="end" class="xl">mqtt.proto_len</text>
<text transform="translate(362.75 310.60) scale(1.10 1) rotate(-90)" text-anchor="end" class="xl">mqtt.protoname</text>
<text transform="translate(379.95 310.60) scale(1.10 1) rotate(-90)" text-anchor="end" class="xl">mqtt.retain</text>
<text transform="translate(397.15 310.60) scale(1.10 1) rotate(-90)" text-anchor="end" class="xl">mqtt.ver</text>
<text transform="translate(414.35 310.60) scale(1.10 1) rotate(-90)" text-anchor="end" class="xl">mqtt.willmsg</text>
<text transform="translate(431.55 310.60) scale(1.10 1) rotate(-90)" text-anchor="end" class="xl">mqtt.willtopic</text>
<text transform="translate(448.75 310.60) scale(1.10 1) rotate(-90)" text-anchor="end" class="xl">target</text>
<text transform="translate(505.50 18.30) scale(1.0120 1)">1.00</text>
<text transform="translate(505.50 54.22) scale(1.0120 1)">0.75</text>
<text transform="translate(505.50 90.14) scale(1.0120 1)">0.50</text>
<text transform="translate(505.50 126.06) scale(1.0120 1)">0.25</text>
<text transform="translate(505.50 161.97) scale(1.0120 1)">0.00</text>
<text transform="translate(504.80 197.89) scale(1.0120 1)">−0.25</text>
<text transform="translate(504.80 233.81) scale(1.0120 1)">−0.50</text>
<text transform="translate(504.80 269.73) scale(1.0120 1)">−0.75</text>
<text transform="translate(504.80 305.65) scale(1.0120 1)">−1.00</text>
</svg></body></html>
